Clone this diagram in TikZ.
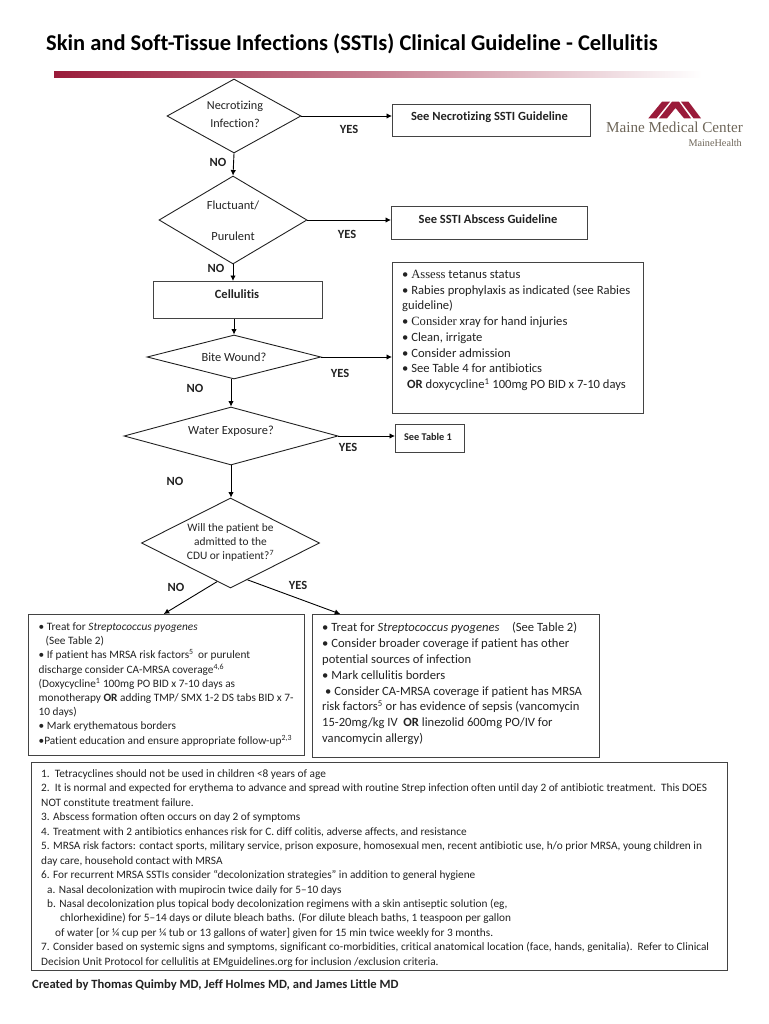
\documentclass[tikz,border=0pt]{standalone}
\usepackage{fontspec}
\setmainfont{Carlito}[Ligatures=NoCommon]
\newfontfamily\logofont{Liberation Serif}
\usetikzlibrary{shapes.geometric,arrows.meta,calc}
\definecolor{mmcred}{HTML}{9A1B3A}
\definecolor{logogray}{HTML}{6E6659}
\definecolor{ink}{HTML}{222222}
\newcommand{\sq}[1]{\textsuperscript{#1}}
\newcommand{\bul}{\textbullet\ }
\newcommand{\tms}[1]{{\logofont #1}}
\tikzset{
  x=1pt,y=-1pt,
  every node/.style={text=ink},
  dec/.style={draw=ink,line width=0.9pt,diamond,minimum width=#1,inner sep=0pt},
  bx/.style={draw=ink!85,line width=1pt,anchor=north west,inner sep=0pt},
  arr/.style={draw=black,line width=0.9pt,-{Latex[length=5.5pt,width=5.5pt]}},
  lab/.style={font=\bfseries\fontsize{12.5}{14}\selectfont},
  dtxt/.style={align=center,inner sep=0pt},
  body/.style={anchor=north west,align=left,inner sep=0pt},
}
\begin{document}
\begin{tikzpicture}
\useasboundingbox (0,0) rectangle (768,1024);
\node[anchor=base west,inner sep=0pt,font=\bfseries\fontsize{22.5}{26}\selectfont,text=black] (title) at (46,51) {Skin and Soft-Tissue Infections (SSTIs) Clinical Guideline - Cellulitis};
\shade[left color=mmcred,right color=white,middle color=mmcred!55] (54,72) rectangle (702,78);
% logo
\fill[mmcred] (648.3,118.3) -- (662,101.7) -- (670,101.7) -- (656.5,118.3) -- cycle;
\fill[mmcred] (659,118.3) -- (672,101.7) -- (679,101.7) -- (691,118.3) -- (684,118.3) -- (675.5,108) -- (667,118.3) -- cycle;
\fill[mmcred] (681,101.7) -- (688.5,101.7) -- (701,118.3) -- (693.5,118.3) -- cycle;
\node[anchor=base east,inner sep=0pt,text=logogray,font=\logofont\fontsize{15.2}{17}\selectfont] (logo) at (743,133) {Maine Medical Center};
\node[anchor=base east,inner sep=0pt,text=logogray,font=\logofont\fontsize{10.2}{11}\selectfont] (logo2) at (742,147) {MaineHealth};
% decisions
\node[dec=134pt,minimum height=74pt] (d1) at (234,116) {};
\node[dec=148pt,minimum height=88pt] (d2) at (233,220) {};
\node[dec=174pt,minimum height=44pt] (d3) at (234,357) {};
\node[dec=214pt,minimum height=58pt] (d4) at (231,436) {};
\node[dec=178pt,minimum height=90pt] (d5) at (230.5,543) {};
\node[dtxt,font=\fontsize{12.2}{18}\selectfont] (d1t) at (235,114) {Necrotizing\\Infection?};
\node[dtxt,font=\fontsize{12.4}{31}\selectfont] (d2t) at (233,221) {Fluctuant/\\Purulent};
\node[dtxt,font=\fontsize{12.4}{14}\selectfont] (d3t) at (234,357) {Bite Wound?};
\node[dtxt,font=\fontsize{12.4}{14}\selectfont] (d4t) at (231,431) {Water Exposure?};
\node[dtxt,font=\fontsize{11.4}{14}\selectfont] (d5t) at (230.5,542) {Will the patient be\\admitted to the\\CDU or inpatient?\sq{7}};
% boxes
\node[bx,minimum width=198pt,minimum height=32pt] (necro) at (392,104) {};
\node[lab] (necrot) at (489.5,117) {See Necrotizing SSTI Guideline};
\node[bx,minimum width=196pt,minimum height=32pt] (absc) at (391,206.5) {};
\node[lab] (abst) at (488,219) {See SSTI Abscess Guideline};
\node[bx,minimum width=169pt,minimum height=37pt] (cell) at (153,281) {};
\node[lab] (cellt) at (237,294) {Cellulitis};
\node[bx,minimum width=251pt,minimum height=151pt] (bite) at (392,262) {};
\node[body,font=\fontsize{12.6}{15.7}\selectfont] (bitet) at (402,270) {%
\bul\tms{Assess} tetanus status\\
\bul Rabies prophylaxis as indicated (see Rabies\\
guideline)\\
\bul\tms{Consider} xray for hand injuries\\
\bul Clean, irrigate\\
\bul Consider admission\\
\bul See Table 4 for antibiotics\\
\hspace*{5pt}\textbf{OR} doxycycline\sq{1} 100mg PO BID x 7-10 days};
\node[bx,minimum width=69pt,minimum height=28pt] (t1) at (395,424) {};
\node[lab,font=\bfseries\fontsize{10.3}{12}\selectfont] (t1t) at (428,437) {See Table 1};
\node[bx,minimum width=276pt,minimum height=141pt] (lbox) at (28,614) {};
\node[body,font=\fontsize{11.3}{14.2}\selectfont] (lboxt) at (38.5,622.5) {%
\bul Treat for \textit{Streptococcus pyogenes}\\
\hspace*{7pt}(See Table 2)\\
\bul If patient has MRSA risk factors\sq{5}\, or purulent\\
discharge consider CA-MRSA coverage\sq{4,6}\\
(Doxycycline\sq{1} 100mg PO BID x 7-10 days as\\
monotherapy \textbf{OR} adding TMP/ SMX 1-2 DS tabs BID x 7-\\
10 days)\\
\bul Mark erythematous borders\\
\textbullet Patient education and ensure appropriate follow-up\sq{2,3}};
\node[bx,minimum width=287pt,minimum height=143pt] (rbox) at (312,614) {};
\node[body,font=\fontsize{12.6}{15.9}\selectfont] (rboxt) at (322,622) {%
\bul Treat for \textit{Streptococcus pyogenes}\quad(See Table 2)\\
\bul Consider broader coverage if patient has other\\
potential sources of infection\\
\bul Mark cellulitis borders\\
\hspace*{3pt}\bul Consider CA-MRSA coverage if patient has MRSA\\
risk factors\sq{5} or has evidence of sepsis (vancomycin\\
15-20mg/kg IV\ \ \textbf{OR} linezolid 600mg PO/IV for\\
vancomycin allergy)};
\node[bx,minimum width=696pt,minimum height=208pt] (notes) at (31,762) {};
\node[body,font=\fontsize{11.3}{14.44}\selectfont] (notest) at (41,769.5) {%
1.\ \ Tetracyclines should not be used in children <8 years of age\\
2.\ \ It is normal and expected for erythema to advance and spread with routine Strep infection often until day 2 of antibiotic treatment.\ \ This DOES\\
NOT constitute treatment failure.\\
3. Abscess formation often occurs on day 2 of symptoms\\
4. Treatment with 2 antibiotics enhances risk for C. diff colitis, adverse affects, and resistance\\
5. MRSA risk factors: contact sports, military service, prison exposure, homosexual men, recent antibiotic use, h/o prior MRSA, young children in\\
day care, household contact with MRSA\\
6. For recurrent MRSA SSTIs consider “decolonization strategies” in addition to general hygiene\\
\hspace*{6pt}a. Nasal decolonization with mupirocin twice daily for 5–10 days\\
\hspace*{6pt}b. Nasal decolonization plus topical body decolonization regimens with a skin antiseptic solution (eg,\\
\hspace*{19pt}chlorhexidine) for 5–14 days or dilute bleach baths. (For dilute bleach baths, 1 teaspoon per gallon\\
\hspace*{14pt}of water [or ¼ cup per ¼ tub or 13 gallons of water] given for 15 min twice weekly for 3 months.\\
7. Consider based on systemic signs and symptoms, significant co-morbidities, critical anatomical location (face, hands, genitalia).\ \ Refer to Clinical\\
Decision Unit Protocol for cellulitis at EMguidelines.org for inclusion /exclusion criteria.};
\node[anchor=base west,inner sep=0pt,font=\bfseries\fontsize{12.6}{14}\selectfont] (credit) at (32,988) {Created by Thomas Quimby MD, Jeff Holmes MD, and James Little MD};
% connectors
\draw[arr] (d1.south) -- (d2.north);
\draw[arr] (d2.south) -- (d2.south |- cell.north);
\draw[arr] (cell.south -| d3.north) -- (d3.north);
\draw[arr] (d3.south -| d4.north) -- (d4.north);
\draw[arr] (d4.south) -- (d4.south |- d5.north);
\draw[arr] (d1.east) -- (d1.east -| necro.west);
\draw[arr] (d2.east) -- (d2.east -| absc.west);
\draw[arr] (d3.east) -- (d3.east -| bite.west);
\draw[arr] (d4.east) -- (d4.east -| t1.west);
\draw[arr] ($(d5.south)!0.15!(d5.west)$) -- ($(lbox.north west)!0.49!(lbox.north east)$);
\draw[arr] ($(d5.south)!0.19!(d5.east)$) -- ($(rbox.north west)!0.098!(rbox.north east)$);
% labels
\node[lab] (y1) at (349,129.5) {YES};
\node[lab] (n1) at (218,162) {NO};
\node[lab] (y2) at (347,234) {YES};
\node[lab] (n2) at (216,268) {NO};
\node[lab] (y3) at (340,373) {YES};
\node[lab] (n3) at (195,388) {NO};
\node[lab] (y4) at (348,447) {YES};
\node[lab] (n4) at (175,481) {NO};
\node[lab] (n5) at (176,587) {NO};
\node[lab] (y5) at (298,585) {YES};
\end{tikzpicture}
\end{document}
